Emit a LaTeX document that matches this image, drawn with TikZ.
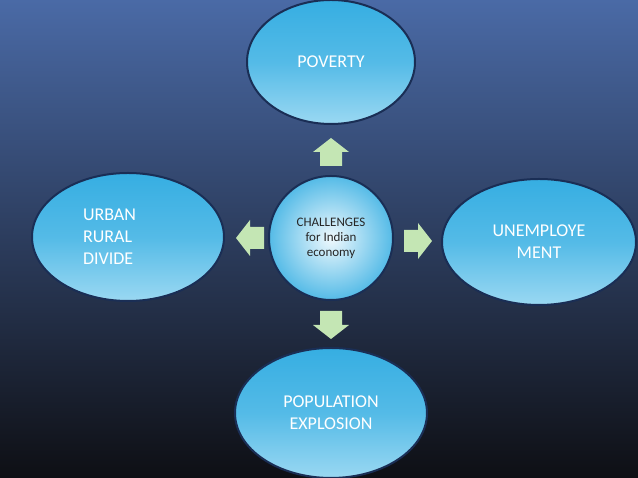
\documentclass[tikz,border=0pt]{standalone}
\usepackage{fontspec}
\setmainfont{Carlito}
\usetikzlibrary{shapes.geometric}
\definecolor{bgtop}{HTML}{4A6AA6}
\definecolor{bgbot}{HTML}{0E0F14}
\definecolor{ellA}{HTML}{36AEE2}
\definecolor{ellB}{HTML}{9AD8F2}
\definecolor{rim}{HTML}{1A2E55}
\definecolor{arr}{HTML}{C4E6B4}
\tikzset{
 bubble/.style={ellipse,draw=rim,line width=2pt,top color=ellA,bottom color=ellB,middle color=ellA!70!ellB,
   text=white,font=\fontsize{18}{22}\selectfont,align=center,inner sep=0pt},
 hub/.style={circle,draw=rim,line width=2pt,inner color=white!85!ellB,outer color=ellA!70!ellB,
   text=black!85,font=\fontsize{13}{15}\selectfont,align=center,minimum size=124pt,inner sep=0pt},
 blk/.style={fill=arr}
}
\newcommand\blockarrow[2]{\fill[blk,shift={#1},rotate=#2] (-11,-14)--(11,-14)--(11,0)--(18,0)--(0,14)--(-18,0)--(-11,0)--cycle;}
\begin{document}
\begin{tikzpicture}[x=1pt,y=1pt]
\shade[top color=bgtop,bottom color=bgbot] (0,0) rectangle (638,478);
\useasboundingbox (0,0) rectangle (638,478);
\node[hub] (c) at (331,240) {CHALLENGES\\for Indian\\economy};
\node[bubble,minimum width=168pt,minimum height=124pt] (p) at (331,416) {POVERTY};
\node[bubble,minimum width=192pt,minimum height=128pt] (u) at (128,241) {\makebox[90pt][l]{URBAN}\\\makebox[90pt][l]{RURAL}\\\makebox[90pt][l]{DIVIDE}};
\node[bubble,minimum width=194pt,minimum height=126pt] (e) at (539,236) {UNEMPLOYE\\MENT};
\node[bubble,minimum width=192pt,minimum height=130pt] (x) at (331,65) {POPULATION\\EXPLOSION};
\blockarrow{(331,326)}{0}
\blockarrow{(250,240)}{90}
\blockarrow{(418,237)}{-90}
\blockarrow{(331,153)}{180}
\end{tikzpicture}
\end{document}
